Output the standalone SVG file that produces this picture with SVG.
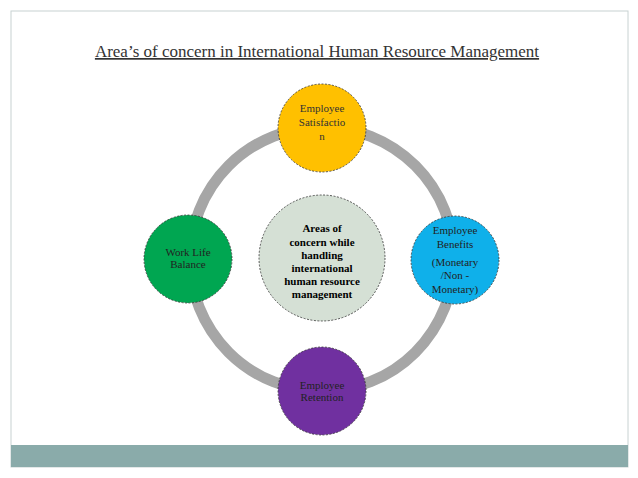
<svg xmlns="http://www.w3.org/2000/svg" width="638" height="478" viewBox="0 0 638 478">
<style>
.n{stroke:#333;stroke-width:0.8;stroke-dasharray:2,1.5}
.t{font-family:"Liberation Serif",serif;text-anchor:middle;font-size:11px}
</style>
<rect width="638" height="478" fill="#fff"/>
<rect x="11" y="11" width="617" height="456" fill="none" stroke="#c8d2d2" stroke-width="1"/>
<rect x="11" y="445" width="617" height="22" fill="#8aabaa"/>
<text x="317" y="57" font-family="Liberation Serif,serif" font-size="17" text-anchor="middle" fill="#333" text-decoration="underline">Area’s of concern in International Human Resource Management</text>
<g id="connectors"><circle cx="322" cy="259" r="132" fill="none" stroke="#a6a6a6" stroke-width="11"/></g>
<g id="center"><circle class="n" cx="322" cy="258" r="63" fill="#d5e0d5"/>
<text class="t" font-weight="bold" font-size="12"><tspan x="322" y="232">Areas of</tspan><tspan x="322" y="246">concern while</tspan><tspan x="322" y="259">handling</tspan><tspan x="322" y="272">international</tspan><tspan x="322" y="285">human resource</tspan><tspan x="322" y="298">management</tspan></text></g>
<g id="top"><circle class="n" cx="322" cy="128" r="44" fill="#ffc000"/>
<text class="t" font-size="12" fill="#333"><tspan x="322" y="112">Employee</tspan><tspan x="322" y="126">Satisfactio</tspan><tspan x="322" y="140">n</tspan></text></g>
<g id="left"><circle class="n" cx="188" cy="259" r="44" fill="#00a651"/>
<text class="t" fill="#222"><tspan x="188" y="256">Work Life</tspan><tspan x="188" y="268">Balance</tspan></text></g>
<g id="right"><circle class="n" cx="455" cy="260" r="44" fill="#0fb0ea"/>
<text class="t" font-size="13" fill="#222"><tspan x="455" y="234">Employee</tspan><tspan x="455" y="248">Benefits</tspan><tspan x="455" y="266">(Monetary</tspan><tspan x="455" y="279">/Non -</tspan><tspan x="455" y="293">Monetary)</tspan></text></g>
<g id="bottom"><circle class="n" cx="322" cy="391" r="44" fill="#7030a0"/>
<text class="t" fill="#222"><tspan x="322" y="389">Employee</tspan><tspan x="322" y="401">Retention</tspan></text></g>
</svg>
